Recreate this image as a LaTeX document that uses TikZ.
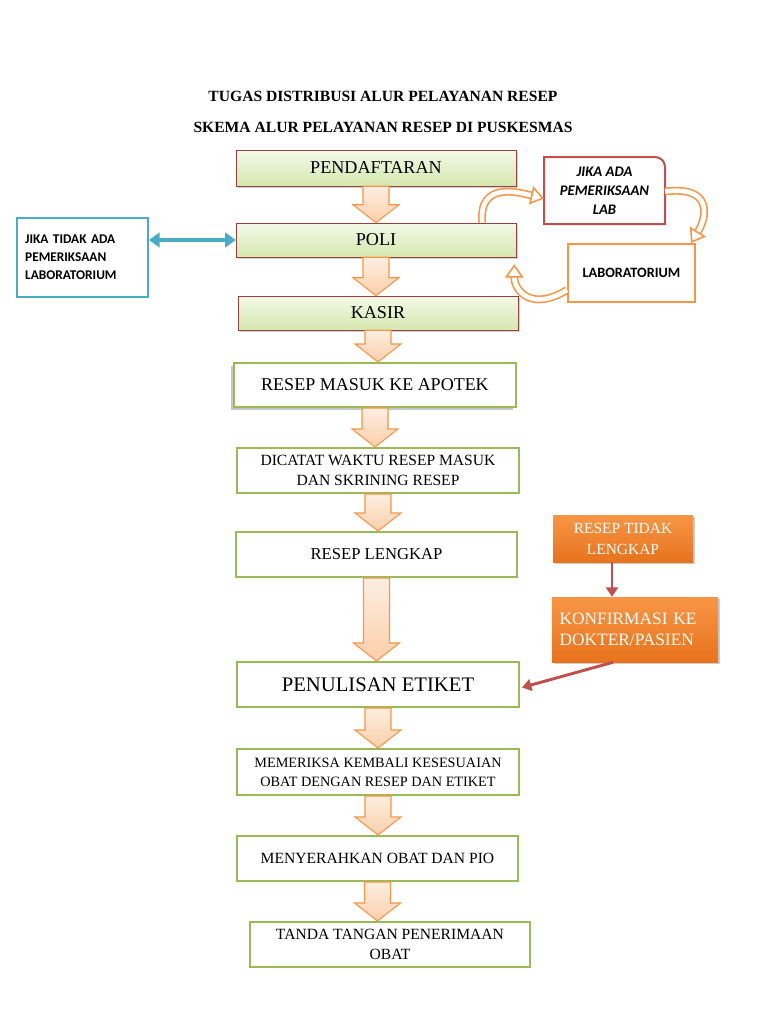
\documentclass[tikz,border=0pt]{standalone}
\usepackage{fontspec}
\setmainfont{Liberation Serif}
\newfontfamily\calibfont{Carlito}
\usetikzlibrary{arrows.meta,calc,shadows}
\definecolor{BoxGreen}{HTML}{9BBB59}
\definecolor{GreenTop}{HTML}{F4F9E8}
\definecolor{GreenBot}{HTML}{D5E8AE}
\definecolor{BoxRed}{HTML}{C0504D}
\definecolor{ArrowFill}{HTML}{FBCFAA}
\definecolor{ArrowLine}{HTML}{F79646}
\definecolor{BoxBlue}{HTML}{4BACC6}
\definecolor{OrangeTop}{HTML}{F79646}
\definecolor{OrangeBot}{HTML}{E8731C}

\tikzset{
  greenbox/.style={draw=BoxRed!80!black, line width=0.4pt, top color=GreenTop,
    bottom color=GreenBot, inner sep=0pt, minimum width=210pt,
    drop shadow={shadow xshift=1.5pt,shadow yshift=-1.5pt,opacity=.35},
    font=\fontsize{13.6}{15}\selectfont},
  whitebox/.style={draw=BoxGreen, line width=1.5pt, fill=white, inner sep=0pt,
    minimum width=211.5pt, minimum height=33.75pt, align=center,
    font=\fontsize{11.7}{15}\selectfont},
  orangebox/.style={top color=OrangeTop, bottom color=OrangeBot, text=white,
    inner sep=0pt, drop shadow={shadow xshift=1.5pt,shadow yshift=-1.5pt,opacity=.4},
    font=\fontsize{11.6}{15.75}\selectfont},
  smallbox/.style={fill=white, line width=1.5pt, inner sep=0pt,
    font=\calibfont\bfseries\fontsize{10}{13.5}\selectfont},
  blockarrow/.style={draw=ArrowLine, line width=0.8pt, top color=ArrowFill!35,
    bottom color=ArrowFill},
  curvearrow/.style={draw=ArrowLine, line width=1.2pt, double=white,
    double distance=3.5pt, -{Triangle[open,length=10pt,width=14pt]}},
  redarrow/.style={draw=BoxRed, line width=2.2pt, -{Triangle[length=7pt,width=9pt]}},
  title/.style={font=\bfseries\fontsize{11.7}{13}\selectfont}
}

% block arrow from the bottom of #1 to the top of #2
\newcommand{\flowarrow}[2]{%
  \draw[blockarrow] let \p1=(#1.south), \p2=(#2.north) in
    (\x1-9.75pt,\y1) -- (\x1+9.75pt,\y1) -- (\x1+9.75pt,\y2+13.5pt)
    -- (\x1+17.25pt,\y2+13.5pt) -- (\x1,\y2) -- (\x1-17.25pt,\y2+13.5pt)
    -- (\x1-9.75pt,\y2+13.5pt) -- cycle;}

\begin{document}
\begin{tikzpicture}[x=0.75pt,y=-0.75pt]
\useasboundingbox (0,0) rectangle (768,1024);

% titles
\node[title] (judul) at (383,96) {TUGAS DISTRIBUSI ALUR PELAYANAN RESEP};
\node[title] (skema) at (383,127) {SKEMA ALUR PELAYANAN RESEP DI PUSKESMAS};

% main column
\node[greenbox, minimum height=27pt] (pend) at (376,168) {PENDAFTARAN};
\node[greenbox, minimum height=25.5pt] (poli) at (376,240) {POLI};
\node[greenbox, minimum height=25.5pt] (kasir) at (378,313) {KASIR};
\node[whitebox, minimum width=211.5pt, minimum height=33pt,
  drop shadow={shadow xshift=-2pt,shadow yshift=-2pt,opacity=.45},
  font=\fontsize{13.5}{15}\selectfont] (apotek) at (375,385) {RESEP MASUK KE APOTEK};
\node[whitebox] (catat) at (378,470.5) {DICATAT WAKTU RESEP MASUK\\DAN SKRINING RESEP};
\node[whitebox, minimum width=210.75pt, font=\fontsize{12.5}{15}\selectfont]
  (lengkap) at (376.5,554.5) {RESEP LENGKAP};
\node[whitebox, font=\fontsize{15.5}{17}\selectfont] (etiket) at (378,684.5) {PENULISAN ETIKET};
\node[whitebox, minimum height=34.5pt, font=\fontsize{10.7}{14.25}\selectfont]
  (periksa) at (378,772) {MEMERIKSA KEMBALI KESESUAIAN\\OBAT DENGAN RESEP DAN ETIKET};
\node[whitebox, minimum width=210.75pt] (serah) at (377.5,858.5) {MENYERAHKAN OBAT DAN PIO};
\node[whitebox, minimum width=210pt] (tanda) at (390,944.5) {TANDA TANGAN PENERIMAAN\\OBAT};

\flowarrow{pend}{poli}
\flowarrow{poli}{kasir}
\flowarrow{kasir}{apotek}
\flowarrow{apotek}{catat}
\flowarrow{catat}{lengkap}
\flowarrow{lengkap}{etiket}
\flowarrow{etiket}{periksa}
\flowarrow{periksa}{serah}
\flowarrow{serah}{tanda}

% left side
\node[smallbox, draw=BoxBlue, minimum width=98.25pt, minimum height=59.25pt,
  text width=86pt, align=left] (tidak) at (82.5,257.5)
  {JIKA TIDAK ADA\\PEMERIKSAAN\\LABORATORIUM};
\draw[BoxBlue, line width=3pt, {Triangle[length=8pt,width=11pt]}-{Triangle[length=8pt,width=11pt]}]
  (tidak.east |- poli.west) -- (poli.west);

% laboratory loop
\node[smallbox, minimum width=89.25pt, minimum height=48.75pt, align=center,
  font=\calibfont\bfseries\itshape\fontsize{11}{14.25}\selectfont] (jika) at (604.5,190.5)
  {JIKA ADA\\PEMERIKSAAN\\LAB};
\draw[BoxRed, line width=1.5pt] (jika.south west) -- (jika.north west)
  -- ($(jika.north east)+(-10,0)$) arc[start angle=90,end angle=0,radius=7.5pt]
  -- (jika.south east) -- cycle;
\node[smallbox, draw=ArrowLine, minimum width=95.25pt, minimum height=43.5pt,
  font=\calibfont\bfseries\fontsize{10.7}{13.5}\selectfont]
  (labor) at (631.5,273) {LABORATORIUM};

\draw[curvearrow] ($(poli.north east)+(-34,0)$) .. controls +(-4,-42) and +(-25,-6) .. ($(jika.west)+(0,8)$);
\draw[curvearrow] ($(jika.east)+(0,1)$) .. controls +(48,-6) and +(16,-26) .. ($(labor.north east)+(-5,0)$);
\draw[curvearrow] ($(labor.west)+(0,17)$) .. controls +(-36,22) and +(0,26) .. ($(poli.south east)+(-2,7)$);

% incomplete prescription
\node[orangebox, minimum width=105pt, minimum height=35.25pt, align=center]
  (kurang) at (623,538.5) {RESEP TIDAK\\LENGKAP};
\node[orangebox, minimum width=124.5pt, minimum height=48.75pt, text width=113pt,
  align=left, font=\fontsize{13}{15.75}\selectfont] (konfirmasi) at (635,629.5)
  {KONFIRMASI KE\\DOKTER/PASIEN};
\coordinate (kx) at ($(kurang.south)+(-11,0)$);
\draw[redarrow] (kx) -- (kx |- konfirmasi.north);
\draw[redarrow] ($(konfirmasi.south)+(-22,0)$) -- ($(etiket.east)+(2,3)$);

\end{tikzpicture}
\end{document}
